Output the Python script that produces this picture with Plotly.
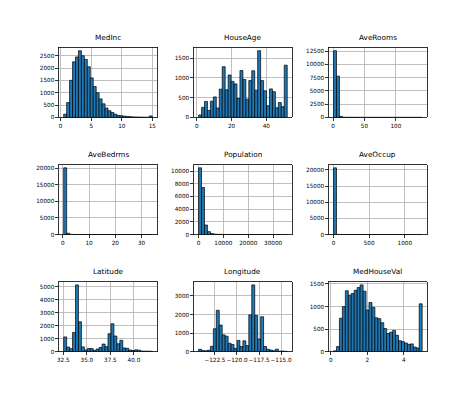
import numpy as np
import plotly.graph_objects as go

# ---------------- data ----------------
names = ["MedInc", "HouseAge", "AveRooms", "AveBedrms", "Population",
         "AveOccup", "Latitude", "Longitude", "MedHouseVal"]

data_min = [0.4999, 1.0, 0.846, 0.333, 3.0, 0.692, 32.54, -124.35, 0.14999]
data_max = [15.0001, 52.0, 141.909, 34.067, 35682.0, 1243.333, 41.95, -114.31, 5.00001]

medinc = [130, 600, 1500, 2250, 2450, 2700, 2500, 2350, 2050, 1600,
          1250, 1000, 750, 550, 380, 270, 200, 130, 80, 70,
          50, 40, 30, 20, 15, 10, 8, 5, 5, 60]
houseage = [62, 253, 404, 175, 411, 518, 238, 714, 1283, 698,
            1072, 911, 847, 478, 1185, 959, 461, 934, 1180, 689,
            1686, 931, 673, 296, 721, 650, 245, 375, 270, 1321]
averooms = [12600, 7800, 180, 25, 10, 5, 3, 2, 1, 1,
            1, 0, 0, 0, 0, 0, 0, 0, 0, 0,
            0, 0, 0, 0, 0, 0, 0, 1, 0, 1]
avebedrms = [20150, 380, 45, 15, 10, 6, 4, 3, 2, 2,
             1, 1, 1, 0, 0, 0, 0, 0, 0, 0,
             0, 0, 0, 0, 1, 0, 0, 0, 0, 1]
population = [10500, 7400, 1500, 450, 150, 60, 30, 15, 8, 5,
              3, 3, 2, 1, 1, 0, 0, 0, 0, 0,
              0, 0, 0, 1, 0, 0, 0, 0, 0, 1]
aveoccup = [20628, 4, 2, 1, 0, 0, 0, 0, 0, 0,
            0, 0, 1, 0, 1, 0, 0, 0, 0, 0,
            0, 0, 0, 0, 0, 0, 0, 0, 0, 1]
latitude = [1130, 350, 220, 1480, 5150, 2300, 360, 120, 230, 230,
            90, 200, 320, 580, 380, 1380, 2150, 1200, 600, 870,
            280, 250, 120, 80, 130, 110, 40, 30, 30, 20]
longitude = [120, 50, 40, 70, 280, 1230, 2230, 1430, 900, 830,
             450, 380, 170, 600, 270, 580, 320, 1980, 3600, 1950,
             680, 1880, 270, 120, 80, 40, 130, 20, 30, 10]
medhouseval = [15, 110, 740, 1000, 1350, 1250, 1290, 1360, 1420, 1480,
               1340, 920, 1090, 980, 750, 730, 640, 510, 400, 430,
               470, 360, 240, 220, 190, 160, 170, 100, 80, 1060]

counts = [medinc, houseage, averooms, avebedrms, population,
          aveoccup, latitude, longitude, medhouseval]

x_tickvals = [[0, 5, 10, 15], [0, 20, 40], [0, 50, 100], [0, 10, 20, 30],
              [0, 10000, 20000, 30000], [0, 500, 1000],
              [32.5, 35.0, 37.5, 40.0], [-122.5, -120.0, -117.5, -115.0], [0, 2, 4]]
x_ticktext = [["0", "5", "10", "15"], ["0", "20", "40"], ["0", "50", "100"],
              ["0", "10", "20", "30"], ["0", "10000", "20000", "30000"],
              ["0", "500", "1000"], ["32.5", "35.0", "37.5", "40.0"],
              ["\u2212122.5", "\u2212120.0", "\u2212117.5", "\u2212115.0"], ["0", "2", "4"]]
y_tickvals = [[0, 500, 1000, 1500, 2000, 2500], [0, 500, 1000, 1500],
              [0, 2500, 5000, 7500, 10000, 12500], [0, 5000, 10000, 15000, 20000],
              [0, 2000, 4000, 6000, 8000, 10000], [0, 5000, 10000, 15000, 20000],
              [0, 1000, 2000, 3000, 4000, 5000], [0, 1000, 2000, 3000],
              [0, 500, 1000, 1500]]

# ---------------- layout ----------------
W, H = 474, 395
col_px = [(59.25, 156.75), (194.15, 291.65), (329.1, 426.6)]
row_px = [(47.4, 117.4), (164.5, 234.5), (281.55, 351.55)]

FONT = "DejaVu Sans"
TICK_SIZE = 5.7
TITLE_SIZE = 7.3

fig = go.Figure()
layout = dict(
    width=W, height=H,
    margin=dict(l=0, r=0, t=0, b=0, autoexpand=False),
    paper_bgcolor="white", plot_bgcolor="white",
    showlegend=False, bargap=0, hovermode=False,
    font=dict(family=FONT, size=TICK_SIZE, color="black"),
)
annotations = []

for i, name in enumerate(names):
    r, c = divmod(i, 3)
    n = i + 1
    xa = "x" if n == 1 else f"x{n}"
    ya = "y" if n == 1 else f"y{n}"
    edges = np.linspace(data_min[i], data_max[i], len(counts[i]) + 1)
    centers = (edges[:-1] + edges[1:]) / 2
    width = edges[1] - edges[0]
    fig.add_trace(go.Bar(
        x=centers, y=counts[i], width=width,
        marker=dict(color="#1f77b4", line=dict(color="black", width=0.7)),
        xaxis=xa, yaxis=ya, hoverinfo="skip",
    ))
    span = data_max[i] - data_min[i]
    xr = [data_min[i] - 0.05 * span, data_max[i] + 0.05 * span]
    yr = [0, max(counts[i]) * 1.05]
    x0, x1 = col_px[c]
    y0, y1 = row_px[r]
    axcommon = dict(
        showline=True, mirror=True, linecolor="black", linewidth=0.8,
        ticks="outside", ticklen=3, tickwidth=0.8, tickcolor="black",
        showgrid=True, gridcolor="#b0b0b0", gridwidth=0.8,
        zeroline=False, automargin=False, tickangle=0,
        tickfont=dict(family=FONT, size=TICK_SIZE, color="black"),
    )
    layout["xaxis" if n == 1 else f"xaxis{n}"] = dict(
        domain=[x0 / W, x1 / W], anchor=ya, range=xr,
        tickvals=x_tickvals[i], ticktext=x_ticktext[i], **axcommon)
    layout["yaxis" if n == 1 else f"yaxis{n}"] = dict(
        domain=[1 - y1 / H, 1 - y0 / H], anchor=xa, range=yr,
        tickvals=y_tickvals[i], ticktext=[str(v) for v in y_tickvals[i]], **axcommon)
    annotations.append(dict(
        text=name, x=(x0 + x1) / 2 / W, y=1 - (y0 - 3.5) / H,
        xref="paper", yref="paper", xanchor="center", yanchor="bottom",
        showarrow=False, font=dict(family=FONT, size=TITLE_SIZE, color="black"),
    ))

layout["annotations"] = annotations
fig.update_layout(**layout)
fig.write_html("out.html", config={"displayModeBar": False, "staticPlot": True},
               post_script="document.body.style.margin='0';document.body.style.padding='0';")
